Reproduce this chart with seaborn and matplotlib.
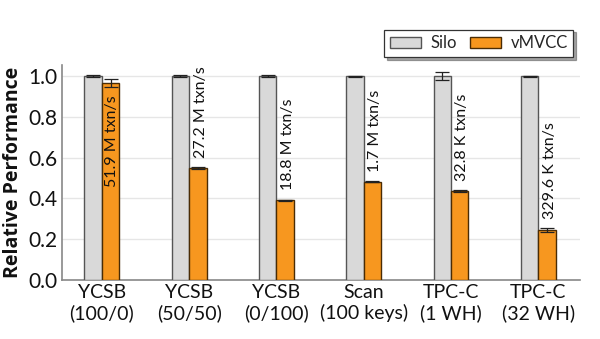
import matplotlib
matplotlib.use("Agg")
import matplotlib.pyplot as plt
import seaborn as sns
import pandas as pd

# Workloads and relative throughput (normalised to Silo)
workloads = ["YCSB\n(100/0)", "YCSB\n(50/50)", "YCSB\n(0/100)",
             "Scan\n(100 keys)", "TPC-C\n(1 WH)", "TPC-C\n(32 WH)"]
systems = ["Silo", "vMVCC"]
silo_rel = [1.0, 1.0, 1.0, 1.0, 1.0, 1.0]
silo_err = [0.004, 0.003, 0.005, 0.002, 0.02, 0.002]
vmvcc_rel = [0.965, 0.549, 0.391, 0.482, 0.436, 0.247]
vmvcc_err = [0.02, 0.005, 0.003, 0.003, 0.003, 0.01]
vmvcc_tput = ["51.9 M txn/s", "27.2 M txn/s", "18.8 M txn/s",
              "1.7 M txn/s", "32.8 K txn/s", "329.6 K txn/s"]

colors = {"Silo": "#d9d9d9", "vMVCC": "#f7971f"}
edges = {"Silo": "#555555", "vMVCC": "#4a2c05"}

df = pd.DataFrame({
    "workload": workloads * 2,
    "system": ["Silo"] * len(workloads) + ["vMVCC"] * len(workloads),
    "rel": silo_rel + vmvcc_rel,
})

sns.set_style("white")
plt.rcParams["font.family"] = ["Lato", "DejaVu Sans"]

fig = plt.figure(figsize=(6.0, 3.39), dpi=100)
ax = fig.add_axes([0.103, 0.174, 0.864, 0.634])

sns.barplot(data=df, x="workload", y="rel", hue="system", order=workloads,
            hue_order=systems, palette=colors, saturation=1, width=0.4,
            errorbar=None, linewidth=1.0, ax=ax, zorder=3)

# edge colours, error bars and throughput annotations per series
errs = {"Silo": silo_err, "vMVCC": vmvcc_err}
vals = {"Silo": silo_rel, "vMVCC": vmvcc_rel}
for cont, name in zip(ax.containers, systems):
    xs = []
    for patch in cont.patches:
        patch.set_edgecolor(edges[name])
        xs.append(patch.get_x() + patch.get_width() / 2)
    ax.errorbar(xs, vals[name], yerr=errs[name], fmt="none", ecolor="#222222",
                elinewidth=0.9, capsize=5, capthick=0.9, zorder=4)
    if name == "vMVCC":
        for x, v, lab in zip(xs, vmvcc_rel, vmvcc_tput):
            if v > 0.8:
                ax.text(x + 0.02, v - 0.06, lab, rotation=90, ha="center",
                        va="top", fontsize=11.5, color="#111111", zorder=5)
            else:
                ax.text(x + 0.03, v + 0.05, lab, rotation=90, ha="center",
                        va="bottom", fontsize=11.5, color="#111111", zorder=5)

ax.set_ylim(0, 1.054)
ax.set_xlim(-0.46, 5.48)
ax.set_yticks([0.0, 0.2, 0.4, 0.6, 0.8, 1.0])
ax.set_yticklabels(["0.0", "0.2", "0.4", "0.6", "0.8", "1.0"])
ax.yaxis.grid(True, color="#e6e6e6", linewidth=1.0, zorder=0)
ax.set_axisbelow(True)
ax.tick_params(axis="y", length=0, labelsize=15, pad=3, colors="#111111")
ax.tick_params(axis="x", length=0, labelsize=14, pad=3, colors="#111111")
for t in ax.get_xticklabels():
    t.set_linespacing(1.2)
ax.set_xlabel("")
ax.set_ylabel("Relative Performance", fontsize=14, fontweight="bold",
              family=["Open Sans", "DejaVu Sans"], color="#111111", labelpad=4)
for side in ["top", "right"]:
    ax.spines[side].set_visible(False)
for side in ["left", "bottom"]:
    ax.spines[side].set_color("#888888")
    ax.spines[side].set_linewidth(1.2)

leg = ax.legend(loc="upper right", bbox_to_anchor=(0.987, 1.165), ncol=2,
                frameon=True, fancybox=False, shadow=True, fontsize=12,
                handlelength=1.9, handleheight=0.6, columnspacing=0.75,
                handletextpad=0.55, borderpad=0.35, borderaxespad=0)
leg.get_frame().set_edgecolor("#333333")
leg.get_frame().set_linewidth(0.9)
for h, name in zip(leg.legend_handles, systems):
    h.set_edgecolor(edges[name])

fig.savefig("out.png", dpi=100)
